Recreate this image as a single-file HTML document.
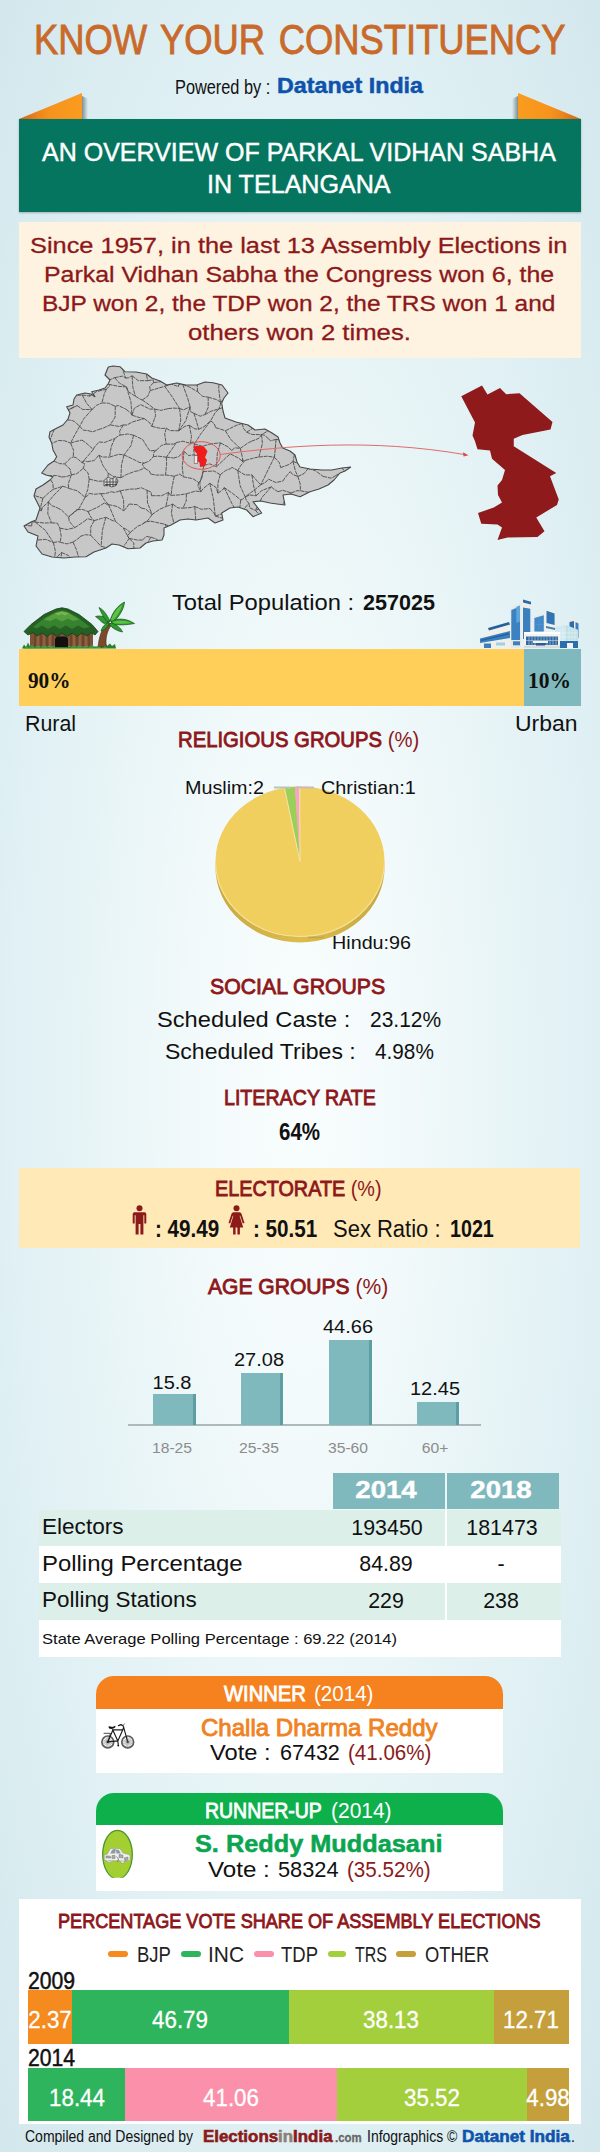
<!DOCTYPE html>
<html><head><meta charset="utf-8"><title>Know Your Constituency - Parkal</title>
<style>
html,body{margin:0;padding:0}
body{width:600px;height:2152px;overflow:hidden;font-family:"Liberation Sans",sans-serif;background:#e6f3f6}
#pg{position:relative;width:600px;height:2152px;overflow:hidden;background:radial-gradient(ellipse 430px 1520px at 50% 50%,#f9fdfd 0%,#f3fafb 22%,#e9f5f7 45%,#deeff3 72%,#d2e7ec 100%)}
.r{position:absolute}
.t{position:absolute;white-space:nowrap;line-height:1;transform-origin:0 50%;display:block}
svg{position:absolute;overflow:visible}
b{font-weight:700}
.m{-webkit-text-stroke:.9px currentColor}

</style></head><body>
<div id="pg">
<svg style="left:0;top:85px" width="600" height="40" viewBox="0 85 600 40">
<defs>
<linearGradient id="gL" x1="0" x2="1" y1="0" y2="0"><stop offset="0" stop-color="#d4621a"/><stop offset="0.3" stop-color="#ee851c"/><stop offset="0.5" stop-color="#f7931d"/><stop offset="1" stop-color="#f99c1e"/></linearGradient>
<linearGradient id="gR" x1="1" x2="0" y1="0" y2="0"><stop offset="0" stop-color="#d4621a"/><stop offset="0.3" stop-color="#ee851c"/><stop offset="0.5" stop-color="#f7931d"/><stop offset="1" stop-color="#f99c1e"/></linearGradient>
<linearGradient id="sL" x1="0" x2="1" y1="0" y2="0"><stop offset="0" stop-color="#56656a" stop-opacity=".7"/><stop offset="1" stop-color="#5d6b6e" stop-opacity="0"/></linearGradient>
<linearGradient id="sR" x1="1" x2="0" y1="0" y2="0"><stop offset="0" stop-color="#56656a" stop-opacity=".7"/><stop offset="1" stop-color="#5d6b6e" stop-opacity="0"/></linearGradient>
</defs>
<polygon points="82,96 88,99 88,119 82,119" fill="url(#sL)"/>
<polygon points="518,96 512,99 512,119 518,119" fill="url(#sR)"/>
<polygon points="19,119 82,93 82,119" fill="url(#gL)"/>
<polygon points="581,119 518,93 518,119" fill="url(#gR)"/>
</svg>
<div class="r" style="left:19px;top:119px;width:562px;height:93px;background:#05755f;box-shadow:0 1px 2px rgba(0,0,0,.25)"></div>
<div class="r" style="left:19px;top:222px;width:562px;height:135.5px;background:#fdf3e0;"></div>
<svg style="left:0;top:355px" width="600" height="215" viewBox="0 355 600 215">
<defs><clipPath id="mapc"><polygon points="108.3,367 113,366 120,366.7 125,371.7 136,372 146.7,374 151.7,378 160,381 166.7,385 176.7,383 186,385 196.7,385 205,382 213,382.7 222,385 228,393 224,398 221.7,403 223,411 225,418 236,422 248,425 255,430 265,429 272,433 278,437 280,443 282.7,448 290,451 295,455 297,462 300,467 310,469 322,470 331.7,470 342,468 350.7,467 345,471 340,473 334,480 328,485 319,489 310,491.7 300,496.7 291,494 283,495 285,505 277,504 270,503 261,501 253,501.7 258,508 261.7,513 253,516.7 246.7,510 238,507 230,508 221.7,513 223,520 215,523 208,518 196,520 188,519 180,520 171,525 164,528 164,535 162,540 153,541 146,543 140,548 128,548.8 119,545 112,544 106,548 94,552 86,556.8 75,557 64,558 52,557 42,554 36,546 38,536 28,532 24,526 31,522 36,520 38,514 40,508 34,496 36,489 43,485 50,480 53,476.7 46,475 41.7,473 48,465 54,461 56.7,456.7 53,450 51.7,443 49,437 50,431.7 57,428 63,425 68,419 70,413 66.7,406.7 73,405 74,399 76.7,395 85,393 91,394 95,396.7 91.7,391.7 99,390 105,388 108,384 110,380 105,375"/></clipPath></defs>
<polygon points="108.3,367 113,366 120,366.7 125,371.7 136,372 146.7,374 151.7,378 160,381 166.7,385 176.7,383 186,385 196.7,385 205,382 213,382.7 222,385 228,393 224,398 221.7,403 223,411 225,418 236,422 248,425 255,430 265,429 272,433 278,437 280,443 282.7,448 290,451 295,455 297,462 300,467 310,469 322,470 331.7,470 342,468 350.7,467 345,471 340,473 334,480 328,485 319,489 310,491.7 300,496.7 291,494 283,495 285,505 277,504 270,503 261,501 253,501.7 258,508 261.7,513 253,516.7 246.7,510 238,507 230,508 221.7,513 223,520 215,523 208,518 196,520 188,519 180,520 171,525 164,528 164,535 162,540 153,541 146,543 140,548 128,548.8 119,545 112,544 106,548 94,552 86,556.8 75,557 64,558 52,557 42,554 36,546 38,536 28,532 24,526 31,522 36,520 38,514 40,508 34,496 36,489 43,485 50,480 53,476.7 46,475 41.7,473 48,465 54,461 56.7,456.7 53,450 51.7,443 49,437 50,431.7 57,428 63,425 68,419 70,413 66.7,406.7 73,405 74,399 76.7,395 85,393 91,394 95,396.7 91.7,391.7 99,390 105,388 108,384 110,380 105,375" fill="#c7c7c7"/>
<g fill="none" stroke="#4c4c4c" stroke-width="0.9" stroke-dasharray="4 0.8" stroke-linejoin="round" clip-path="url(#mapc)"><path d="M7.1 342.4L16.5 341.8L21.9 339.6M7.1 342.4L6.3 348.7L4.1 359.0M21.9 339.6L27.6 340.5L28.6 342.0M28.6 342.0L32.5 340.8L36.1 344.0M28.6 342.0L27.4 350.6L25.9 360.0M36.1 344.0L43.7 345.4L50.7 350.0M50.7 350.0L52.0 345.7L56.3 344.5M50.7 350.0L47.7 359.9L47.7 366.1M56.3 344.5L63.8 344.2L66.7 348.4M66.7 348.4L76.0 341.7L82.8 336.1M66.7 348.4L69.9 353.7L77.3 363.2M82.8 336.1L90.7 342.8L95.9 345.6M95.9 345.6L99.6 341.8L103.4 342.4M95.9 345.6L87.8 354.5L77.3 363.2M103.4 342.4L106.8 341.6L109.3 338.1M109.3 338.1L116.0 340.4L123.3 341.2M109.3 338.1L111.4 349.6L110.6 358.3M123.3 341.2L125.7 342.4L130.6 343.7M130.6 343.7L135.5 343.9L139.7 344.2M139.7 344.2L147.3 346.0L154.0 345.7M154.0 345.7L161.4 342.2L165.2 341.7M154.0 345.7L156.9 352.9L158.7 357.1M165.2 341.7L170.4 343.4L175.5 343.0M175.5 343.0L178.3 340.3L185.6 341.3M175.5 343.0L171.0 354.8L165.7 364.5M185.6 341.3L193.9 344.7L201.1 352.5M201.1 352.5L206.5 352.4L210.1 349.3M201.1 352.5L198.9 355.1L194.2 357.7M210.1 349.3L213.7 345.3L215.8 341.3M215.8 341.3L219.7 338.8L226.1 336.4M215.8 341.3L213.9 350.4L209.2 363.6M226.1 336.4L233.1 337.0L240.9 338.8M240.9 338.8L248.8 337.1L252.2 339.8M240.9 338.8L238.6 347.0L231.5 358.6M252.2 339.8L257.7 345.1L263.7 348.2M252.2 339.8L248.0 354.2L244.8 368.4M263.7 348.2L262.6 345.9L265.4 343.1M263.7 348.2L262.7 357.9L257.1 365.8M265.4 343.1L275.9 347.0L284.3 346.4M284.3 346.4L288.9 343.0L295.4 343.3M284.3 346.4L286.0 354.9L288.0 359.2M295.4 343.3L295.8 342.4L297.6 343.1M297.6 343.1L306.6 337.9L314.6 337.2M297.6 343.1L298.7 348.9L297.5 354.2M314.6 337.2L318.6 340.0L318.7 339.1M318.7 339.1L326.4 344.9L337.3 347.2M318.7 339.1L320.6 351.0L323.6 360.2M337.3 347.2L337.3 344.6L340.0 343.5M340.0 343.5L345.4 340.9L350.3 341.4M340.0 343.5L340.0 352.3L339.1 358.5M350.3 341.4L358.6 341.0L367.2 340.6M367.2 340.6L369.9 340.6L375.5 340.8M367.2 340.6L369.4 347.7L375.7 353.0M375.5 340.8L378.4 340.7L382.7 342.8M375.5 340.8L376.8 347.0L375.7 353.0M382.7 342.8L384.2 352.5L384.2 365.0M4.1 359.0L7.4 356.9L14.5 359.0M14.5 359.0L21.5 357.8L25.9 360.0M14.5 359.0L14.8 369.2L19.8 381.0M25.9 360.0L34.0 361.5L43.3 367.0M43.3 367.0L44.7 367.9L47.7 366.1M43.3 367.0L38.0 374.1L34.6 380.2M47.7 366.1L52.5 360.1L57.3 357.2M57.3 357.2L63.8 356.3L73.8 358.3M57.3 357.2L64.0 366.3L70.3 379.0M73.8 358.3L76.5 359.6L77.3 363.2M77.3 363.2L83.9 358.5L88.9 357.2M77.3 363.2L78.5 373.9L79.3 385.0M88.9 357.2L94.9 359.0L104.5 360.7M104.5 360.7L105.7 358.9L110.6 358.3M104.5 360.7L102.1 369.6L104.2 383.1M110.6 358.3L115.6 360.7L119.2 362.4M119.2 362.4L127.5 360.1L131.1 359.6M119.2 362.4L122.7 369.6L125.7 378.1M131.1 359.6L135.2 359.1L142.8 356.0M142.8 356.0L152.1 355.4L158.7 357.1M142.8 356.0L144.7 366.3L147.7 380.7M158.7 357.1L161.6 360.0L165.7 364.5M165.7 364.5L168.1 360.0L172.6 358.7M165.7 364.5L172.5 369.9L176.6 376.8M172.6 358.7L182.2 363.0L189.8 367.2M189.8 367.2L193.9 363.9L194.2 357.7M189.8 367.2L189.2 372.1L186.8 376.5M194.2 357.7L202.7 358.4L209.2 363.6M209.2 363.6L211.3 360.7L214.7 362.0M209.2 363.6L209.8 372.6L211.5 378.2M214.7 362.0L222.2 361.3L231.5 358.6M231.5 358.6L232.6 354.8L237.8 355.4M231.5 358.6L231.2 368.2L230.2 380.1M237.8 355.4L242.1 360.4L244.8 368.4M244.8 368.4L251.5 369.3L257.1 365.8M244.8 368.4L242.3 374.8L238.0 384.0M257.1 365.8L260.4 363.3L267.8 365.2M267.8 365.2L275.1 358.4L281.4 355.8M281.4 355.8L284.5 357.3L288.0 359.2M288.0 359.2L292.2 358.1L297.5 354.2M288.0 359.2L289.1 369.6L292.1 381.4M297.5 354.2L307.3 357.6L312.5 364.5M312.5 364.5L316.7 363.2L323.6 360.2M312.5 364.5L313.4 375.6L310.2 382.1M323.6 360.2L327.8 360.2L336.8 359.8M336.8 359.8L339.2 357.1L339.1 358.5M336.8 359.8L335.7 366.5L336.7 377.0M339.1 358.5L344.0 357.2L353.5 353.0M353.5 353.0L357.0 352.3L361.5 355.0M353.5 353.0L351.3 364.9L352.4 375.7M361.5 355.0L368.5 354.3L375.7 353.0M375.7 353.0L378.9 360.2L384.2 365.0M375.7 353.0L377.4 367.9L377.8 384.2M11.9 380.9L17.8 382.1L19.8 381.0M11.9 380.9L12.4 388.4L8.3 392.9M19.8 381.0L24.3 375.9L25.2 372.7M25.2 372.7L29.9 377.3L34.6 380.2M34.6 380.2L43.5 379.0L51.3 378.7M51.3 378.7L52.7 376.5L55.6 375.2M51.3 378.7L54.3 386.3L59.5 392.6M55.6 375.2L62.3 378.0L70.3 379.0M70.3 379.0L76.5 380.6L79.3 385.0M70.3 379.0L69.4 386.8L67.9 395.5M79.3 385.0L84.5 383.4L87.6 380.5M87.6 380.5L97.3 380.0L104.2 383.1M87.6 380.5L87.4 386.8L89.8 396.1M104.2 383.1L107.1 380.8L114.7 377.7M114.7 377.7L122.4 376.1L125.7 378.1M114.7 377.7L119.4 383.1L126.4 386.9M125.7 378.1L128.4 377.8L132.1 375.8M132.1 375.8L138.3 380.7L147.7 380.7M132.1 375.8L132.8 387.1L135.4 396.2M147.7 380.7L153.1 379.8L153.7 382.6M153.7 382.6L158.8 381.9L168.3 380.8M153.7 382.6L149.8 386.3L150.1 390.6M168.3 380.8L174.3 379.5L176.6 376.8M176.6 376.8L182.8 376.2L186.8 376.5M176.6 376.8L170.1 382.5L164.6 386.3M186.8 376.5L189.9 377.1L192.6 374.8M192.6 374.8L200.5 374.6L211.5 378.2M192.6 374.8L197.0 383.0L197.7 391.8M211.5 378.2L213.9 378.4L219.6 375.0M219.6 375.0L225.2 376.5L230.2 380.1M219.6 375.0L218.7 388.4L220.3 402.0M230.2 380.1L233.4 380.9L238.0 384.0M230.2 380.1L227.6 387.0L229.7 391.3M238.0 384.0L242.4 380.2L245.2 381.2M238.0 384.0L240.5 384.6L238.3 388.1M245.2 381.2L251.9 378.7L255.2 376.3M255.2 376.3L264.0 372.6L269.8 369.9M269.8 369.9L276.3 372.5L282.3 373.7M282.3 373.7L286.1 379.6L292.1 381.4M282.3 373.7L287.5 388.7L292.1 399.6M292.1 381.4L293.5 379.1L299.3 373.3M299.3 373.3L304.9 378.5L310.2 382.1M299.3 373.3L301.1 384.9L300.5 398.4M310.2 382.1L315.0 375.8L319.8 374.1M319.8 374.1L330.5 373.2L336.7 377.0M319.8 374.1L324.5 384.4L326.5 392.4M336.7 377.0L339.4 378.8L343.0 377.8M343.0 377.8L349.0 379.1L352.4 375.7M352.4 375.7L359.2 375.2L361.7 375.6M361.7 375.6L368.6 381.9L377.8 384.2M377.8 384.2L383.8 380.0L389.0 378.5M389.0 378.5L388.7 384.9L386.9 388.3M8.3 392.9L10.8 393.1L14.7 392.1M14.7 392.1L22.1 395.0L31.6 394.0M14.7 392.1L15.8 399.1L19.3 408.9M31.6 394.0L34.7 392.5L40.9 395.3M40.9 395.3L43.3 390.4L47.4 388.4M40.9 395.3L40.5 405.6L43.4 417.3M47.4 388.4L53.2 388.1L59.5 392.6M59.5 392.6L63.2 393.2L67.9 395.5M59.5 392.6L56.6 403.1L58.3 416.7M67.9 395.5L72.9 395.6L82.2 395.0M82.2 395.0L85.1 395.4L89.8 396.1M82.2 395.0L86.6 403.2L92.0 409.5M89.8 396.1L96.6 391.6L106.4 389.2M106.4 389.2L109.7 385.9L108.6 384.3M106.4 389.2L104.3 393.7L101.9 402.9M108.6 384.3L118.6 386.4L126.4 386.9M126.4 386.9L128.8 392.1L135.4 396.2M126.4 386.9L130.9 401.7L132.0 415.2M135.4 396.2L138.9 398.4L142.2 400.0M142.2 400.0L147.8 396.2L150.1 390.6M142.2 400.0L148.1 404.0L154.7 409.1M150.1 390.6L156.0 388.9L164.6 386.3M164.6 386.3L171.6 384.2L178.5 386.6M164.6 386.3L171.1 395.2L179.6 408.5M178.5 386.6L178.5 384.7L182.7 384.5M182.7 384.5L189.4 387.0L197.7 391.8M182.7 384.5L187.6 397.9L190.1 406.7M197.7 391.8L202.5 396.3L208.2 397.2M208.2 397.2L216.6 399.6L220.3 402.0M208.2 397.2L208.2 407.3L205.1 414.5M220.3 402.0L225.1 399.0L229.7 391.3M220.3 402.0L220.6 404.3L218.8 409.0M229.7 391.3L235.5 389.5L238.3 388.1M229.7 391.3L231.8 397.1L236.8 404.9M238.3 388.1L242.1 386.7L244.5 389.4M244.5 389.4L254.4 387.7L261.5 386.1M244.5 389.4L252.4 403.9L256.8 415.9M261.5 386.1L264.9 390.4L267.9 390.7M267.9 390.7L273.4 392.5L282.3 395.7M282.3 395.7L285.0 396.9L292.1 399.6M292.1 399.6L297.9 397.1L300.5 398.4M292.1 399.6L295.0 401.0L302.5 400.7M300.5 398.4L308.0 392.6L315.7 386.9M300.5 398.4L301.6 398.7L302.5 400.7M315.7 386.9L323.3 391.9L326.5 392.4M315.7 386.9L318.1 401.2L321.6 412.4M326.5 392.4L329.0 392.6L329.6 389.5M329.6 389.5L337.9 392.1L344.7 397.5M329.6 389.5L330.0 400.9L333.6 411.6M344.7 397.5L346.6 395.8L352.9 396.3M352.9 396.3L359.7 398.8L368.0 400.0M352.9 396.3L356.0 404.4L354.4 410.6M368.0 400.0L374.7 396.6L379.1 394.4M379.1 394.4L382.5 389.7L386.9 388.3M379.1 394.4L380.0 400.5L382.1 405.6M9.5 410.3L12.7 407.8L19.3 408.9M19.3 408.9L22.6 410.7L25.9 413.3M25.9 413.3L32.8 413.5L43.4 417.3M25.9 413.3L26.6 421.9L25.7 430.9M43.4 417.3L48.7 416.3L49.8 416.5M49.8 416.5L54.6 416.4L58.3 416.7M58.3 416.7L65.7 410.9L73.8 407.1M73.8 407.1L77.6 405.4L77.2 405.7M73.8 407.1L64.3 413.0L57.2 419.8M77.2 405.7L82.8 409.5L92.0 409.5M92.0 409.5L96.5 405.4L101.9 402.9M92.0 409.5L83.9 418.6L79.7 426.2M101.9 402.9L108.4 403.2L115.3 406.3M115.3 406.3L118.2 405.5L125.8 409.1M115.3 406.3L115.1 417.1L110.2 424.9M125.8 409.1L130.7 413.0L132.0 415.2M132.0 415.2L134.3 408.3L140.7 404.6M132.0 415.2L138.9 417.4L144.3 418.6M140.7 404.6L149.9 409.1L154.7 409.1M154.7 409.1L160.9 410.4L168.1 408.6M154.7 409.1L155.6 415.6L151.8 426.4M168.1 408.6L173.7 408.1L179.6 408.5M179.6 408.5L183.5 409.9L190.1 406.7M179.6 408.5L180.8 419.8L178.7 430.8M190.1 406.7L190.1 411.4L193.9 413.3M190.1 406.7L185.8 420.7L178.7 430.8M193.9 413.3L200.3 416.2L205.1 414.5M193.9 413.3L196.0 419.7L198.7 429.3M205.1 414.5L211.3 411.1L218.8 409.0M218.8 409.0L226.8 406.2L231.2 407.1M218.8 409.0L214.9 413.1L210.7 420.8M231.2 407.1L235.4 405.0L236.8 404.9M236.8 404.9L242.7 409.5L252.2 413.5M236.8 404.9L239.5 413.3L242.1 423.5M252.2 413.5L253.8 413.5L256.8 415.9M256.8 415.9L265.4 416.9L274.3 413.3M256.8 415.9L257.3 419.5L257.3 423.6M274.3 413.3L279.4 408.8L281.2 408.1M281.2 408.1L284.6 410.7L291.3 408.8M281.2 408.1L286.2 418.7L290.1 424.9M291.3 408.8L297.9 402.9L302.5 400.7M302.5 400.7L308.1 405.0L316.3 406.5M316.3 406.5L320.1 408.9L321.6 412.4M321.6 412.4L328.2 411.5L333.6 411.6M321.6 412.4L318.3 424.3L313.7 432.9M333.6 411.6L337.2 409.3L345.3 407.8M333.6 411.6L333.5 422.3L333.1 431.5M345.3 407.8L349.4 411.1L354.4 410.6M345.3 407.8L341.3 420.0L333.1 431.5M354.4 410.6L361.5 414.1L368.7 413.7M368.7 413.7L369.8 411.0L372.9 406.0M368.7 413.7L362.8 416.9L360.9 417.2M372.9 406.0L376.9 406.5L382.1 405.6M10.4 429.5L13.2 427.7L17.8 425.5M17.8 425.5L21.2 427.4L25.7 430.9M17.8 425.5L20.5 436.1L21.1 451.2M25.7 430.9L33.6 429.7L42.9 424.1M42.9 424.1L47.6 423.2L52.1 420.0M42.9 424.1L39.9 428.6L32.4 437.7M52.1 420.0L55.1 422.1L57.2 419.8M57.2 419.8L65.2 419.5L72.2 420.5M57.2 419.8L54.4 428.9L49.2 442.2M72.2 420.5L74.4 421.5L79.7 426.2M79.7 426.2L83.0 430.1L87.9 430.6M79.7 426.2L74.1 436.1L70.6 443.1M87.9 430.6L92.8 431.8L98.5 429.6M98.5 429.6L103.3 428.1L110.2 424.9M110.2 424.9L119.1 426.5L123.3 424.9M123.3 424.9L126.9 425.0L132.4 422.0M123.3 424.9L119.6 431.3L120.2 435.1M132.4 422.0L136.1 420.9L144.3 418.6M144.3 418.6L150.1 423.2L151.8 426.4M151.8 426.4L161.1 428.5L166.3 428.2M166.3 428.2L170.1 430.6L178.7 430.8M166.3 428.2L164.7 434.1L166.2 444.1M178.7 430.8L184.9 426.3L189.3 425.3M189.3 425.3L194.8 428.8L198.7 429.3M189.3 425.3L191.5 436.5L190.4 443.4M198.7 429.3L204.0 426.7L210.7 420.8M210.7 420.8L214.2 423.8L215.8 427.8M210.7 420.8L200.6 434.2L194.3 444.0M215.8 427.8L218.7 428.5L225.4 430.8M225.4 430.8L235.9 425.5L242.1 423.5M225.4 430.8L230.6 439.3L240.3 448.4M242.1 423.5L243.7 428.7L246.6 432.2M246.6 432.2L251.9 428.8L257.3 423.6M246.6 432.2L252.2 434.5L261.5 434.6M257.3 423.6L263.6 424.5L273.1 424.6M273.1 424.6L277.4 420.0L283.2 418.5M273.1 424.6L268.8 430.5L261.5 434.6M283.2 418.5L286.4 422.2L290.1 424.9M290.1 424.9L294.9 421.4L297.1 421.3M290.1 424.9L293.7 439.1L299.0 451.3M297.1 421.3L304.1 425.9L313.7 432.9M313.7 432.9L320.6 427.7L326.8 424.9M326.8 424.9L331.5 427.6L333.1 431.5M333.1 431.5L338.0 430.2L343.5 427.7M333.1 431.5L342.5 436.0L348.1 440.8M343.5 427.7L347.3 421.5L351.1 417.8M351.1 417.8L354.1 416.6L360.9 417.2M351.1 417.8L355.9 430.3L355.9 444.3M360.9 417.2L366.5 421.1L375.5 425.1M375.5 425.1L380.5 426.7L386.1 423.7M375.5 425.1L373.8 438.3L376.1 448.8M4.6 442.3L11.4 446.9L21.1 451.2M4.6 442.3L2.2 450.3L3.4 455.8M21.1 451.2L27.2 446.4L32.4 437.7M32.4 437.7L34.6 440.8L35.0 445.2M32.4 437.7L29.8 450.6L26.2 460.4M35.0 445.2L44.4 441.9L49.2 442.2M49.2 442.2L52.2 443.3L58.4 440.5M49.2 442.2L50.3 449.8L53.8 461.0M58.4 440.5L64.5 440.7L70.6 443.1M70.6 443.1L75.2 441.6L81.9 440.1M70.6 443.1L73.5 450.2L73.3 456.9M81.9 440.1L85.9 442.8L93.3 449.4M93.3 449.4L94.6 446.9L99.1 442.0M93.3 449.4L88.9 454.8L81.9 462.5M99.1 442.0L104.7 442.4L114.7 438.6M114.7 438.6L118.8 435.6L120.2 435.1M114.7 438.6L111.3 446.5L109.5 457.1M120.2 435.1L127.6 434.0L133.6 435.2M133.6 435.2L142.5 439.4L147.6 447.6M133.6 435.2L130.9 445.8L124.0 454.9M147.6 447.6L149.9 450.9L156.4 450.2M156.4 450.2L161.6 445.3L166.2 444.1M156.4 450.2L154.1 451.8L153.3 456.7M166.2 444.1L173.5 444.1L176.4 442.5M176.4 442.5L183.0 441.2L190.4 443.4M176.4 442.5L171.6 449.6L166.4 457.2M190.4 443.4L193.2 441.7L194.3 444.0M194.3 444.0L202.3 446.2L209.2 444.4M194.3 444.0L193.8 449.3L194.2 454.8M209.2 444.4L212.8 443.6L220.4 442.9M220.4 442.9L228.3 447.0L231.6 450.5M220.4 442.9L217.3 453.5L216.5 466.7M231.6 450.5L234.9 447.8L240.3 448.4M240.3 448.4L247.7 443.2L251.4 441.3M240.3 448.4L242.2 456.5L243.0 461.8M251.4 441.3L258.9 438.3L261.5 434.6M261.5 434.6L264.2 435.1L268.5 438.7M261.5 434.6L262.4 443.5L258.9 457.0M268.5 438.7L270.4 440.8L276.0 439.4M276.0 439.4L281.9 440.2L292.3 445.6M276.0 439.4L275.3 448.7L274.4 457.2M292.3 445.6L296.9 449.9L299.0 451.3M292.3 445.6L294.9 452.2L293.0 461.5M299.0 451.3L305.8 446.0L313.5 443.2M299.0 451.3L301.7 454.8L305.9 463.0M313.5 443.2L320.0 442.1L324.0 443.2M324.0 443.2L328.8 440.0L333.3 438.3M324.0 443.2L327.8 449.6L330.3 451.9M333.3 438.3L340.3 438.2L348.1 440.8M348.1 440.8L351.7 441.2L355.9 444.3M348.1 440.8L344.7 449.1L343.8 455.9M355.9 444.3L361.2 441.5L368.9 438.5M368.9 438.5L374.3 442.1L376.1 448.8M368.9 438.5L366.6 449.9L364.1 459.0M376.1 448.8L378.2 444.1L383.3 443.9M3.4 455.8L11.0 453.8L16.9 451.7M16.9 451.7L19.3 456.3L26.2 460.4M16.9 451.7L16.4 458.9L20.2 470.2M26.2 460.4L34.4 461.2L39.5 457.2M39.5 457.2L47.4 457.8L53.8 461.0M39.5 457.2L40.0 467.7L41.6 480.2M53.8 461.0L59.6 463.6L64.6 464.0M64.6 464.0L70.5 458.1L73.3 456.9M64.6 464.0L70.1 469.1L71.3 474.9M73.3 456.9L76.0 457.6L81.9 462.5M81.9 462.5L84.6 460.8L87.3 461.7M81.9 462.5L84.7 463.7L83.3 468.3M87.3 461.7L94.1 460.6L98.9 455.2M98.9 455.2L102.4 457.0L109.5 457.1M98.9 455.2L102.9 465.4L108.3 473.4M109.5 457.1L118.8 454.3L124.0 454.9M124.0 454.9L133.1 459.2L137.6 461.4M124.0 454.9L121.5 464.8L120.9 477.7M137.6 461.4L139.1 462.4L144.2 463.1M144.2 463.1L149.1 461.2L153.3 456.7M144.2 463.1L142.3 464.3L144.4 468.1M153.3 456.7L157.8 456.1L166.4 457.2M166.4 457.2L172.0 457.7L173.5 458.1M166.4 457.2L166.6 464.2L165.5 475.0M173.5 458.1L178.7 456.6L184.1 451.4M184.1 451.4L188.4 455.5L194.2 454.8M184.1 451.4L182.2 466.2L183.3 476.8M194.2 454.8L201.3 457.8L203.8 465.4M203.8 465.4L209.7 463.9L216.5 466.7M203.8 465.4L203.0 470.0L203.1 471.5M216.5 466.7L225.6 458.0L230.3 453.9M230.3 453.9L238.9 458.3L243.0 461.8M243.0 461.8L241.8 460.3L245.1 460.4M245.1 460.4L254.2 457.9L258.9 457.0M245.1 460.4L240.8 465.4L237.8 470.6M258.9 457.0L267.2 456.2L274.4 457.2M274.4 457.2L279.4 462.8L280.7 467.6M274.4 457.2L268.1 469.8L260.9 484.6M280.7 467.6L289.0 464.5L293.0 461.5M293.0 461.5L300.1 464.1L305.9 463.0M293.0 461.5L295.5 471.3L297.8 476.5M305.9 463.0L308.4 455.8L313.0 451.8M313.0 451.8L317.0 453.8L323.6 455.0M313.0 451.8L309.5 458.2L308.1 468.5M323.6 455.0L327.9 452.8L330.3 451.9M330.3 451.9L337.0 455.9L343.8 455.9M330.3 451.9L339.0 463.5L346.0 473.4M343.8 455.9L348.1 460.1L353.5 464.4M353.5 464.4L359.1 459.6L364.1 459.0M353.5 464.4L355.0 465.8L360.7 470.7M364.1 459.0L367.7 458.8L375.8 458.2M364.1 459.0L363.8 463.6L360.7 470.7M375.8 458.2L383.5 458.9L388.1 456.7M375.8 458.2L366.3 463.8L360.7 470.7M388.1 456.7L383.7 464.7L383.5 469.3M12.1 477.4L14.4 472.9L20.2 470.2M12.1 477.4L9.1 488.4L6.2 495.2M20.2 470.2L23.3 476.5L24.9 481.0M24.9 481.0L32.3 481.4L41.6 480.2M24.9 481.0L29.1 489.6L30.4 496.1M41.6 480.2L46.4 479.5L48.2 475.9M48.2 475.9L56.5 475.5L61.7 477.0M48.2 475.9L52.9 483.4L53.3 489.3M61.7 477.0L66.4 476.6L71.3 474.9M71.3 474.9L76.9 473.7L83.3 468.3M71.3 474.9L68.2 484.0L68.8 488.4M83.3 468.3L88.0 472.8L89.2 479.1M89.2 479.1L98.4 481.3L105.8 480.9M89.2 479.1L87.8 489.4L85.0 497.3M105.8 480.9L107.9 476.9L108.3 473.4M108.3 473.4L114.1 476.8L120.9 477.7M120.9 477.7L126.6 474.5L134.6 471.4M134.6 471.4L138.2 470.8L144.4 468.1M144.4 468.1L149.4 471.1L150.7 474.1M150.7 474.1L156.8 475.1L165.5 475.0M165.5 475.0L168.2 475.3L174.3 476.2M174.3 476.2L179.8 474.2L183.3 476.8M174.3 476.2L171.9 487.8L171.1 495.4M183.3 476.8L193.0 478.7L198.8 482.6M198.8 482.6L201.5 479.3L203.1 471.5M198.8 482.6L197.9 485.8L200.8 491.8M203.1 471.5L214.1 471.0L220.3 474.7M203.1 471.5L199.8 482.9L200.8 491.8M220.3 474.7L225.5 470.6L230.5 468.6M220.3 474.7L217.9 483.1L217.9 493.2M230.5 468.6L232.1 467.4L237.8 470.6M237.8 470.6L245.0 474.9L251.9 474.9M237.8 470.6L240.1 485.7L245.2 496.8M251.9 474.9L257.8 481.8L260.9 484.6M251.9 474.9L253.7 486.3L256.2 495.8M260.9 484.6L265.9 482.1L268.4 479.1M260.9 484.6L255.0 489.5L245.2 496.8M268.4 479.1L275.8 482.5L282.8 481.1M282.8 481.1L285.1 477.6L290.3 471.6M290.3 471.6L292.4 474.3L297.8 476.5M297.8 476.5L304.0 473.6L308.1 468.5M297.8 476.5L300.1 483.4L300.5 490.8M308.1 468.5L315.3 470.6L323.1 476.4M323.1 476.4L331.1 478.2L334.7 476.3M334.7 476.3L338.3 473.8L346.0 473.4M346.0 473.4L348.4 473.9L351.4 477.9M346.0 473.4L341.9 483.2L335.0 495.3M351.4 477.9L357.5 473.1L360.7 470.7M360.7 470.7L368.4 470.6L377.1 474.3M360.7 470.7L362.1 482.0L367.8 493.5M377.1 474.3L378.0 469.8L383.5 469.3M383.5 469.3L384.7 485.2L389.7 496.8M6.2 495.2L13.2 492.7L16.8 490.4M16.8 490.4L22.7 495.6L30.4 496.1M30.4 496.1L35.7 495.9L42.9 498.3M42.9 498.3L48.1 493.4L53.3 489.3M42.9 498.3L40.9 506.0L41.2 510.9M53.3 489.3L59.0 487.5L62.8 486.2M62.8 486.2L65.5 487.1L68.8 488.4M62.8 486.2L53.3 495.8L48.4 501.9M68.8 488.4L77.5 490.9L85.0 497.3M85.0 497.3L87.7 495.6L89.2 493.4M85.0 497.3L79.1 508.5L68.6 517.0M89.2 493.4L94.5 494.3L100.8 493.6M100.8 493.6L105.2 493.7L111.5 491.7M100.8 493.6L104.3 499.8L108.5 504.6M111.5 491.7L114.6 492.5L120.2 490.8M120.2 490.8L130.5 489.1L136.2 489.0M120.2 490.8L123.6 500.0L123.8 510.8M136.2 489.0L141.3 487.7L147.1 490.4M147.1 490.4L151.1 492.1L151.5 495.7M147.1 490.4L147.5 502.8L152.1 514.5M151.5 495.7L161.6 495.7L168.5 492.4M168.5 492.4L170.2 494.9L171.1 495.4M168.5 492.4L167.6 498.3L165.9 506.5M171.1 495.4L179.7 494.9L186.4 493.8M186.4 493.8L195.9 491.0L200.8 491.8M186.4 493.8L186.2 501.0L183.0 508.1M200.8 491.8L203.0 488.8L209.8 483.3M209.8 483.3L216.0 487.4L217.9 493.2M209.8 483.3L213.3 498.7L215.3 516.1M217.9 493.2L222.5 490.0L224.2 487.6M224.2 487.6L232.9 493.6L240.7 499.9M224.2 487.6L231.9 503.6L238.9 515.2M240.7 499.9L242.2 499.6L245.2 496.8M240.7 499.9L240.0 506.0L238.9 515.2M245.2 496.8L250.0 495.0L256.2 495.8M245.2 496.8L246.3 500.3L248.8 503.3M256.2 495.8L261.5 490.7L271.4 486.8M271.4 486.8L273.0 488.4L277.9 491.7M271.4 486.8L262.2 497.1L255.4 510.4M277.9 491.7L282.7 490.3L291.2 492.9M291.2 492.9L297.0 490.7L300.5 490.8M291.2 492.9L283.7 502.5L280.8 509.0M300.5 490.8L310.1 492.6L316.3 497.2M316.3 497.2L320.3 495.6L322.4 495.6M316.3 497.2L313.6 504.2L307.5 509.3M322.4 495.6L326.5 497.5L335.0 495.3M335.0 495.3L340.1 492.1L347.3 488.8M335.0 495.3L326.8 503.3L321.3 510.2M347.3 488.8L350.5 491.9L357.0 490.5M357.0 490.5L362.1 491.7L367.8 493.5M357.0 490.5L349.5 494.6L340.3 501.9M367.8 493.5L372.2 496.4L378.1 497.4M378.1 497.4L385.7 498.9L389.7 496.8M378.1 497.4L375.0 507.5L376.3 517.7M7.7 514.4L15.9 512.9L20.8 508.9M7.7 514.4L6.9 522.8L4.3 526.9M20.8 508.9L22.0 504.9L27.8 502.6M27.8 502.6L35.7 506.7L41.2 510.9M27.8 502.6L29.4 510.4L35.2 522.1M41.2 510.9L42.5 507.4L48.4 501.9M48.4 501.9L51.7 505.6L57.3 507.8M48.4 501.9L47.8 513.7L51.5 522.8M57.3 507.8L61.6 510.1L68.6 517.0M68.6 517.0L70.4 515.3L76.9 509.6M68.6 517.0L69.3 521.4L74.7 527.7M76.9 509.6L82.9 509.5L88.0 511.6M88.0 511.6L97.9 507.1L104.5 502.9M88.0 511.6L91.3 517.9L94.2 520.6M104.5 502.9L108.3 505.2L108.5 504.6M108.5 504.6L117.2 506.5L123.8 510.8M108.5 504.6L112.0 512.8L115.5 521.4M123.8 510.8L126.6 507.6L129.2 504.0M129.2 504.0L137.1 504.7L141.1 508.0M141.1 508.0L145.6 509.0L152.1 514.5M152.1 514.5L159.5 509.4L165.9 506.5M152.1 514.5L148.0 520.3L142.3 524.3M165.9 506.5L170.4 505.1L172.6 504.1M172.6 504.1L178.0 507.9L183.0 508.1M172.6 504.1L171.4 513.1L174.2 524.5M183.0 508.1L191.1 507.5L194.8 506.5M194.8 506.5L201.4 509.3L209.9 508.5M194.8 506.5L195.6 518.1L196.1 533.3M209.9 508.5L214.4 513.7L215.3 516.1M215.3 516.1L224.8 512.7L231.8 509.9M215.3 516.1L223.1 518.4L229.9 520.4M231.8 509.9L233.2 513.6L238.9 515.2M231.8 509.9L231.7 513.8L229.9 520.4M238.9 515.2L243.6 509.5L248.8 503.3M238.9 515.2L236.5 518.3L229.9 520.4M248.8 503.3L249.8 507.9L255.4 510.4M255.4 510.4L264.6 506.3L272.8 504.6M255.4 510.4L261.0 516.2L262.3 521.5M272.8 504.6L274.8 507.5L280.8 509.0M280.8 509.0L286.3 514.3L288.9 517.3M280.8 509.0L279.3 520.0L279.4 528.9M288.9 517.3L297.0 514.4L302.9 508.7M302.9 508.7L306.4 510.9L307.5 509.3M302.9 508.7L303.2 519.0L300.5 525.4M307.5 509.3L315.6 508.9L321.3 510.2M321.3 510.2L325.8 509.1L335.0 506.3M321.3 510.2L322.4 516.8L324.6 520.3M335.0 506.3L336.5 505.1L340.3 501.9M340.3 501.9L346.3 506.2L352.4 506.0M340.3 501.9L341.9 512.4L345.6 525.8M352.4 506.0L358.1 507.7L367.9 511.7M367.9 511.7L371.5 516.8L376.3 517.7M367.9 511.7L366.8 517.4L361.2 521.6M376.3 517.7L380.4 513.3L383.4 510.0M383.4 510.0L380.8 515.2L382.6 520.4M4.3 526.9L8.3 526.3L13.4 525.5M4.3 526.9L5.2 535.6L10.6 539.6M13.4 525.5L21.9 524.9L31.7 526.0M13.4 525.5L12.7 533.1L10.6 539.6M31.7 526.0L32.0 521.7L35.2 522.1M35.2 522.1L44.0 523.0L51.5 522.8M35.2 522.1L45.3 530.3L53.4 542.6M51.5 522.8L57.4 523.2L59.8 528.1M59.8 528.1L67.1 529.5L74.7 527.7M59.8 528.1L61.2 536.2L60.1 542.2M74.7 527.7L77.3 526.0L84.3 521.3M84.3 521.3L87.6 518.7L94.2 520.6M94.2 520.6L101.8 518.4L105.8 517.3M94.2 520.6L90.7 527.2L90.7 535.2M105.8 517.3L113.0 520.8L115.5 521.4M105.8 517.3L102.4 530.3L101.1 546.3M115.5 521.4L117.6 523.2L123.4 528.0M123.4 528.0L125.3 528.6L130.3 532.4M123.4 528.0L125.8 532.6L129.1 538.4M130.3 532.4L137.5 526.4L142.3 524.3M130.3 532.4L127.5 535.9L129.1 538.4M142.3 524.3L145.0 522.0L150.6 521.2M150.6 521.2L159.5 523.1L164.7 524.2M164.7 524.2L169.7 526.4L174.2 524.5M164.7 524.2L173.0 536.6L178.5 545.3M174.2 524.5L180.3 522.2L182.4 523.7M182.4 523.7L188.1 527.5L196.1 533.3M182.4 523.7L183.6 538.0L182.9 548.2M196.1 533.3L201.6 531.3L210.0 530.3M210.0 530.3L212.8 525.8L213.0 525.1M210.0 530.3L213.9 534.8L214.2 540.7M213.0 525.1L222.0 524.9L229.9 520.4M229.9 520.4L234.9 522.6L239.1 521.1M229.9 520.4L236.0 535.0L240.5 545.2M239.1 521.1L240.1 524.2L244.5 528.2M244.5 528.2L251.6 526.2L262.3 521.5M262.3 521.5L267.3 522.3L271.1 525.2M271.1 525.2L275.7 525.6L279.4 528.9M271.1 525.2L267.5 532.1L266.2 540.2M279.4 528.9L285.2 525.2L289.1 524.5M289.1 524.5L293.4 525.3L300.5 525.4M289.1 524.5L287.4 534.8L289.4 543.3M300.5 525.4L305.7 522.4L309.8 518.0M309.8 518.0L317.2 516.8L324.6 520.3M309.8 518.0L310.6 530.9L308.5 546.9M324.6 520.3L330.7 522.9L337.1 525.8M337.1 525.8L340.2 526.1L345.6 525.8M337.1 525.8L340.8 533.7L344.1 540.4M345.6 525.8L353.3 525.4L357.0 523.5M357.0 523.5L357.3 523.0L361.2 521.6M357.0 523.5L361.8 529.9L367.4 539.4M361.2 521.6L370.0 524.1L376.6 525.9M376.6 525.9L381.8 521.0L382.6 520.4M382.6 520.4L382.9 534.8L383.6 546.0M10.6 539.6L13.3 538.9L14.2 537.7M10.6 539.6L7.2 548.4L5.1 561.0M14.2 537.7L20.5 536.3L25.3 539.4M25.3 539.4L29.5 538.0L38.1 539.9M38.1 539.9L45.9 539.4L53.4 542.6M53.4 542.6L58.3 541.6L60.1 542.2M53.4 542.6L55.5 551.6L54.0 560.1M60.1 542.2L66.9 543.9L73.0 542.1M73.0 542.1L78.7 538.3L80.0 536.5M73.0 542.1L76.3 549.3L79.9 561.3M80.0 536.5L85.2 534.7L90.7 535.2M90.7 535.2L95.9 540.8L101.1 546.3M101.1 546.3L107.2 547.9L116.9 548.5M116.9 548.5L123.1 548.0L124.5 544.7M116.9 548.5L120.8 549.3L123.6 550.9M124.5 544.7L125.7 543.7L129.1 538.4M129.1 538.4L137.9 540.1L142.5 540.0M129.1 538.4L133.8 543.0L133.7 552.0M142.5 540.0L146.2 536.5L150.9 537.1M150.9 537.1L156.3 539.1L165.1 544.6M150.9 537.1L146.5 544.5L144.6 555.2M165.1 544.6L172.5 544.0L178.5 545.3M178.5 545.3L182.7 547.8L182.9 548.2M182.9 548.2L189.9 544.3L200.2 543.9M200.2 543.9L201.1 543.9L205.6 540.3M200.2 543.9L193.8 548.6L185.7 556.1M205.6 540.3L209.7 541.0L214.2 540.7M205.6 540.3L206.7 547.4L209.4 557.9M214.2 540.7L224.7 537.9L232.5 538.7M232.5 538.7L237.2 541.8L240.5 545.2M240.5 545.2L244.7 545.9L246.2 549.4M246.2 549.4L253.9 545.2L260.7 541.3M260.7 541.3L265.4 539.4L266.2 540.2M260.7 541.3L259.8 547.7L259.7 557.4M266.2 540.2L273.5 539.9L281.2 542.6M266.2 540.2L274.4 546.3L278.9 549.6M281.2 542.6L283.1 543.0L289.4 543.3M281.2 542.6L275.4 551.4L269.4 559.6M289.4 543.3L293.8 539.2L300.2 538.1M300.2 538.1L306.2 543.0L308.5 546.9M300.2 538.1L301.1 549.4L303.6 561.5M308.5 546.9L314.8 549.0L319.1 548.9M319.1 548.9L324.4 545.4L333.4 545.7M319.1 548.9L324.3 553.3L329.5 556.4M333.4 545.7L338.1 542.4L344.1 540.4M344.1 540.4L353.2 543.8L357.8 546.1M344.1 540.4L337.3 549.0L329.5 556.4M357.8 546.1L363.9 543.3L367.4 539.4M367.4 539.4L371.7 540.5L371.5 542.5M367.4 539.4L368.1 548.2L364.7 554.3M371.5 542.5L375.7 543.1L383.6 546.0M383.6 546.0L382.2 552.1L383.1 556.3M5.1 561.0L11.4 558.3L21.0 557.7M21.0 557.7L22.8 555.9L28.9 555.1M21.0 557.7L22.3 567.2L19.5 578.5M28.9 555.1L31.2 552.5L34.7 553.4M34.7 553.4L45.0 558.7L54.0 560.1M54.0 560.1L56.5 557.6L61.5 552.5M61.5 552.5L68.6 555.6L72.1 560.0M61.5 552.5L60.3 568.3L56.3 579.9M72.1 560.0L77.5 559.7L79.9 561.3M79.9 561.3L85.7 558.8L94.3 555.7M79.9 561.3L83.0 564.6L89.1 571.7M94.3 555.7L94.7 559.2L99.2 559.8M99.2 559.8L101.9 557.6L109.2 555.9M99.2 559.8L98.9 563.1L100.4 566.3M109.2 555.9L116.1 552.2L123.6 550.9M123.6 550.9L129.2 552.7L133.7 552.0M123.6 550.9L121.1 562.8L122.1 571.7M133.7 552.0L137.2 553.9L144.6 555.2M133.7 552.0L132.4 562.1L134.3 571.0M144.6 555.2L149.3 554.1L155.8 554.7M144.6 555.2L144.3 570.2L139.7 582.8M155.8 554.7L161.9 555.8L166.6 557.2M166.6 557.2L174.0 557.6L179.7 561.3M166.6 557.2L172.4 563.8L175.2 568.0M179.7 561.3L184.6 559.2L185.7 556.1M185.7 556.1L193.0 556.3L197.6 557.1M185.7 556.1L186.7 568.4L184.1 576.3M197.6 557.1L204.8 555.6L209.4 557.9M209.4 557.9L211.8 560.9L217.4 563.2M209.4 557.9L204.0 565.5L200.2 569.8M217.4 563.2L225.7 561.5L231.1 564.5M231.1 564.5L232.4 564.5L237.7 560.7M237.7 560.7L242.5 564.1L249.6 565.0M249.6 565.0L255.5 560.8L259.7 557.4M249.6 565.0L247.5 568.3L246.2 576.0M259.7 557.4L262.4 558.4L269.4 559.6M269.4 559.6L274.6 554.9L278.9 549.6M269.4 559.6L274.4 572.6L284.2 581.0M278.9 549.6L287.6 555.3L293.1 562.2M293.1 562.2L299.9 564.1L303.6 561.5M293.1 562.2L300.3 570.7L303.3 582.1M303.6 561.5L307.2 558.7L314.3 559.2M314.3 559.2L320.8 559.0L323.4 554.9M314.3 559.2L314.9 562.0L311.5 568.8M323.4 554.9L325.4 557.3L329.5 556.4M329.5 556.4L335.8 557.2L343.5 553.5M343.5 553.5L348.0 556.8L349.9 557.3M349.9 557.3L359.5 557.6L364.7 554.3M349.9 557.3L351.0 568.8L355.5 580.1M364.7 554.3L369.3 558.7L373.2 559.1M373.2 559.1L380.0 558.5L383.1 556.3M373.2 559.1L373.6 567.6L378.5 577.9M11.3 582.6L14.5 578.8L19.5 578.5M19.5 578.5L25.3 576.3L27.8 575.2M27.8 575.2L30.2 572.4L36.4 574.2M36.4 574.2L42.0 577.3L50.1 578.2M50.1 578.2L51.2 577.6L56.3 579.9M56.3 579.9L63.0 580.3L67.0 578.4M67.0 578.4L75.9 574.0L85.1 571.0M85.1 571.0L88.6 570.2L89.1 571.7M89.1 571.7L96.8 569.4L100.4 566.3M100.4 566.3L110.4 569.1L116.1 575.0M116.1 575.0L117.7 574.8L122.1 571.7M122.1 571.7L127.2 571.1L134.3 571.0M134.3 571.0L137.9 575.5L139.7 582.8M139.7 582.8L148.0 579.9L152.7 576.9M152.7 576.9L159.8 577.3L169.0 579.7M169.0 579.7L174.2 574.3L175.2 568.0M175.2 568.0L177.6 570.9L184.1 576.3M184.1 576.3L191.4 571.8L200.2 569.8M200.2 569.8L203.0 571.9L210.1 574.7M210.1 574.7L213.2 574.7L217.2 574.1M217.2 574.1L222.1 579.3L231.5 582.8M231.5 582.8L233.6 578.6L235.8 575.5M235.8 575.5L238.8 574.8L246.2 576.0M246.2 576.0L248.9 569.0L255.4 566.5M255.4 566.5L261.4 570.7L272.1 571.3M272.1 571.3L277.9 576.2L284.2 581.0M284.2 581.0L286.7 578.7L293.0 573.6M293.0 573.6L298.1 577.1L303.3 582.1M303.3 582.1L307.4 576.9L311.5 568.8M311.5 568.8L317.6 570.1L320.0 569.1M320.0 569.1L327.3 568.5L334.9 567.6M334.9 567.6L337.9 570.6L340.6 570.4M340.6 570.4L345.9 576.4L355.5 580.1M355.5 580.1L359.9 582.0L363.3 579.9M363.3 579.9L370.8 578.3L378.5 577.9M378.5 577.9L379.2 574.9L383.0 571.4"/></g>
<polygon points="108.3,367 113,366 120,366.7 125,371.7 136,372 146.7,374 151.7,378 160,381 166.7,385 176.7,383 186,385 196.7,385 205,382 213,382.7 222,385 228,393 224,398 221.7,403 223,411 225,418 236,422 248,425 255,430 265,429 272,433 278,437 280,443 282.7,448 290,451 295,455 297,462 300,467 310,469 322,470 331.7,470 342,468 350.7,467 345,471 340,473 334,480 328,485 319,489 310,491.7 300,496.7 291,494 283,495 285,505 277,504 270,503 261,501 253,501.7 258,508 261.7,513 253,516.7 246.7,510 238,507 230,508 221.7,513 223,520 215,523 208,518 196,520 188,519 180,520 171,525 164,528 164,535 162,540 153,541 146,543 140,548 128,548.8 119,545 112,544 106,548 94,552 86,556.8 75,557 64,558 52,557 42,554 36,546 38,536 28,532 24,526 31,522 36,520 38,514 40,508 34,496 36,489 43,485 50,480 53,476.7 46,475 41.7,473 48,465 54,461 56.7,456.7 53,450 51.7,443 49,437 50,431.7 57,428 63,425 68,419 70,413 66.7,406.7 73,405 74,399 76.7,395 85,393 91,394 95,396.7 91.7,391.7 99,390 105,388 108,384 110,380 105,375" fill="none" stroke="#474747" stroke-width="1.1" stroke-linejoin="round"/>
<g fill="#d8d8d8" stroke="#2e2e2e" stroke-width="0.7" transform="translate(1,4.500)"><path d="M103 476l4-3.500 4 2 3.500-2.500 2.500 4.500-2 4.500-4.500 1.500-3-2-4.500 1z M106 474v8 M109 474.500v8 M112 473.500v9 M115 474v7 M103.500 477.500h13 M104 480h12"/></g>
<polygon points="194.200,445.700 203.700,446.200 207.500,451.200 205,457.500 207,460 205,466.200 200,467 199.500,462.500 195,460 197,453.700 193.700,450" fill="#ee1c1c"/>
<rect x="194.200" y="455.500" width="3.500" height="8" fill="#e9e9e9" stroke="#7a4a4a" stroke-width=".6"/>
<ellipse cx="201.200" cy="455.500" rx="19" ry="13.800" fill="none" stroke="#e05555" stroke-width="1"/>
<path d="M220 454.500 C 285 446, 370 438, 466 454.800" fill="none" stroke="#e26a6a" stroke-width="1"/>
<polygon points="468.5,455.2 463,452.3 463.6,456.6" fill="#d94a4a"/>
<polygon points="461.25,396.25 482,385.5 487.5,394.5 500,388 506.25,394.25 519.5,393.25 552.5,422 550.5,429.5 522.5,435 513.75,438.75 513.75,446.25 556.25,473 550,476.25 558.75,499.5 557,505 536.25,517.5 544.5,531.25 537.5,537 507.5,537.5 497.5,540 502,527.5 497.5,524.5 481.25,523.75 478,513 493.75,507.5 502,502.5 498,495 497.5,485.5 502,480 505,470 492,458.75 490,450.5 477.5,449.25 475,441.25 472.5,435.5 475,422.5" fill="#8f1a1c"/>
</svg>
<div class="r" style="left:19px;top:648.5px;width:561.5px;height:57.5px;background:#ffcf5a;"></div>
<div class="r" style="left:524px;top:648.5px;width:56.5px;height:57.5px;background:#80b9bd;"></div>
<svg style="left:15px;top:595px" width="130" height="56" viewBox="15 595 130 56">
<!-- grass back -->
<path d="M22 648.500 l2-4 2 2.500 2-4.500 2 4 3-3 2 3 H98 l2-3 2 2.500 3-4 2 4 3-2.500 2 2.500 3-2 1 4.500z" fill="#2a7f2a"/>
<!-- walls -->
<rect x="30" y="632" width="63" height="14.5" fill="#7d5236"/>
<g stroke="#5b3721" stroke-width="1"><path d="M35 632v15M41 632v15M47 632v15M53 632v15M71 632v15M77 632v15M83 632v15M89 632v15"/></g>
<g stroke="#976a47" stroke-width="1.4"><path d="M38 634v12M44 634v12M50 634v12M74 634v12M80 634v12M86 634v12"/></g>
<path d="M55 647v-7q0-3.5 3.5-3.5h6q3.500 0 3.500 3.500v7z" fill="#141010"/>
<!-- roof -->
<path d="M24 631.500 L31 624.500 L44 614.500 L56 609 L62 607.800 L68 609 L79 614.500 L92 624.500 L98 631.500 L95 635 L91 632.500 L87 636 L82 633 L77 636.500 L72 633 L67 636.500 L62 633 L57 636.500 L52 633 L47 636.500 L42 633 L37 636 L33 632.500 L28 635 Z" fill="#245f24" stroke="#123f14" stroke-width=".8" stroke-linejoin="round"/>
<path d="M33 627 L45 617.500 L57 611.500 L62 610.500 L67 611.500 L78 617.500 L90 627 L84 628.500 L78 625.500 L72 629 L66 625.500 L60 629 L54 625.500 L48 629 L42 625.500 L37 628.500Z" fill="#37822f"/>
<path d="M44 619.500 L56 612.500 L62 611.300 L68 612.500 L79 619.500 L73 621 L68 618.500 L62 621.500 L56 618.500 L50 621Z" fill="#559f3d"/>
<path d="M55 613.500 L62 611.500 L69 613.500 L65 615.500 L62 614 L58 615.500Z" fill="#78b552"/>
<!-- palm trunk -->
<path d="M98 647 C99 638 101 629 108 622 L112 624.500 C107 630 105 639 106.500 647Z" fill="#7b4a2b" stroke="#4e2d18" stroke-width=".6"/>
<!-- palm leaves -->
<g fill="#2f9a2f" stroke="#17581a" stroke-width=".7" stroke-linejoin="round">
<path d="M110 621 C106 617 101 615 95.500 616.500 C99 618.500 100 621.500 104 623.500 C106 623.500 108 622.500 110 621Z"/>
<path d="M110 621 C107 615 104 610 99 607.500 C101 612 103 617 107 621.500Z"/>
<path d="M110 621 C112 613 117 606 124.500 602 C124 609 119 617 113 622.500Z"/>
<path d="M111 621.500 C117 618 126 618 134.500 623.500 C127 625 119 625.500 112 624Z"/>
<path d="M111 623 C116 624 121 628 122.500 632 C117 631 112 628 109.500 624.500Z"/>
<path d="M109 623 C108 627 105 630 101 631 C102 627 105 624 108 622.500Z"/>
</g>
<g fill="#5fc245"><path d="M111 620 C113 614 117 608 122.500 604.500 C121 610 117 616 113 620.500Z"/><path d="M113 622 C119 620 126 620.500 131.500 623 C125 623.800 119 624 113.500 623.300Z"/></g>
<!-- grass front -->
<path d="M24 648.500 l3-2.500 2 2 3-3.500 3 3.500 3-2 3 2 4-3 3 3 4-2 3 2 H70 l3-2.500 3 2.500 3-3.500 3 3.500 3-2 3 2 4-3.500 3 3.500 3-2 4 2 3-2 3 2z" fill="#3d9a35"/>
</svg>
<svg style="left:470px;top:590px" width="120" height="60" viewBox="470 590 120 60">
<!-- tall tower -->
<polygon points="510.400,607.500 520.900,603.300 520.900,648 510.400,648" fill="#e7e8ea"/>
<polygon points="511.300,610 520,606.500 520,640 511.300,640" fill="#3b82c2"/>
<polygon points="516.300,606.800 520,605.400 520,621.500 516.300,623" fill="#5ea6da"/>
<polygon points="521.300,602.500 523,599.600 531,601.700 531,648 521.300,648" fill="#f0eee8"/>
<polygon points="523,599.600 531,601.700 531,604.400 523,602.600" fill="#2b6aa8"/>
<polygon points="523,607.500 530.300,608.800 530.300,639 523,639" fill="#3a7fbe"/>
<rect x="513" y="641.300" width="7" height="4" fill="#3c82c0"/>
<!-- middle bldg -->
<polygon points="533.400,616.200 544.800,613 544.800,632.300 533.400,632.300" fill="#e9eaec"/>
<polygon points="534.400,617.900 543.800,615.300 543.800,631.500 534.400,631.500" fill="#4189c8"/>
<path d="M539 616.600v15M534.400 624.500h9.400" stroke="#5d9bd0" stroke-width=".5"/>
<polygon points="545,611 547,609.300 555.300,612 555.300,632.300 545,632.300" fill="#f1efe9"/>
<polygon points="546.500,610.800 554.600,613.400 554.600,625 546.500,623" fill="#2f74b4"/>
<polygon points="546,626 555.300,628 555.300,630 546,628" fill="#3a7fbe"/>
<!-- right small tower -->
<polygon points="568,620 574,618.500 579,621 579,640 568,640" fill="#ecebe7"/>
<polygon points="569.500,622 574,621 574,630 569.500,630" fill="#2c6dab"/>
<polygon points="575.500,622 578.500,623.500 578.500,638 575.500,637" fill="#3a7fbe"/>
<!-- right glass block -->
<polygon points="555,627 566,625 578,630 578,648 555,648" fill="#cfe9ee"/>
<polygon points="566,625 578,630 578,648 566,648" fill="#bfe0e7"/>
<g stroke="#fff" stroke-width=".5" opacity=".8"><path d="M557 630v18M560 629v19M563 628v20M569 627v21M572 628v20M575 629v19M555 633h23M555 637h23M555 641h23"/></g>
<rect x="560" y="641" width="18" height="7" fill="#2c6dab"/>
<rect x="567" y="643" width="6" height="5" fill="#eef3f5"/>
<!-- left low building -->
<polygon points="488,629 509,622.500 511,623 511,648 480,648 480,638 484,636 484,632 488,631" fill="#f0efea"/>
<polygon points="488,628 509,622 510,624.500 489,630.500" fill="#23609c"/>
<polygon points="480,638.500 510,631 510,638 480,643" fill="#3a80c0"/>
<polygon points="481,639.800 509,633 509,634.500 481,641" fill="#23609c"/>
<rect x="484" y="643.500" width="7" height="4.500" fill="#3a80c0"/>
<rect x="496" y="642.500" width="9" height="3" fill="#9ed0e6"/>
<!-- front low building -->
<rect x="524" y="632" width="36" height="16" fill="#f4f3ef"/>
<rect x="524" y="632" width="36" height="2" fill="#fff"/>
<rect x="526" y="636.500" width="32" height="8.500" fill="#2f69a3"/>
<g stroke="#dfe9ef" stroke-width=".5"><path d="M529 636.500v8.500M532 636.500v8.500M535 636.500v8.500M538 636.500v8.500M541 636.500v8.500M544 636.500v8.500M547 636.500v8.500M550 636.500v8.500M553 636.500v8.500M556 636.500v8.500M526 640.500h32"/></g>
<rect x="533" y="641" width="15" height="2" fill="#f4f3ef"/>
<rect x="536" y="643" width="9" height="5" fill="#275c94"/>
<rect x="524" y="645.500" width="36" height="2.500" fill="#d8dcdc"/>
</svg>
<svg style="left:200px;top:775px" width="200" height="175" viewBox="200 775 200 175"><defs><linearGradient id="pg1" x1="0" x2="1"><stop offset="0" stop-color="#c9a93f"/><stop offset=".5" stop-color="#dcbc4c"/><stop offset="1" stop-color="#c9a93f"/></linearGradient></defs><path d="M215.5 861.5 A84.5 75 0 0 0 384.5 861.5 V867.5 A84.5 75 0 0 1 215.5 867.5Z" fill="url(#pg1)"/><ellipse cx="300" cy="861.5" rx="84.5" ry="75" fill="#f0cf5e"/><path d="M215.5 861.5 A84.5 75 0 0 0 384.5 861.5" fill="none" stroke="#f4e09a" stroke-width="1.2"/><path d="M300 861.5 L284.43 787.78 A84.5 75 0 0 1 294.96 786.63Z" fill="#9ccf5a"/><path d="M300 861.5 L294.96 786.63 A84.5 75 0 0 1 299.73 786.50Z" fill="#f5a3c7"/><path d="M300 861.5 L284.43 787.78 M300 861.5 L299.73 786.50" stroke="#f7e6a8" stroke-width="1" fill="none"/><path d="M274 787.500H289.500V789" fill="none" stroke="#b4c7b4" stroke-width="2"/><path d="M314 787.500H297V789" fill="none" stroke="#cdb9c2" stroke-width="2"/><path d="M308 937.500H324" fill="none" stroke="#c2a84a" stroke-width="1.6"/></svg>
<div class="r" style="left:19px;top:1167.5px;width:561px;height:80.5px;background:#ffe9b6;"></div>
<svg style="left:128px;top:1202.200px" width="125" height="36" viewBox="128 1203 125 36">
<g fill="#8b1a1a">
<circle cx="139.500" cy="1209.200" r="3"/>
<path d="M134.500 1213.200h10q1.800 0 1.800 1.800v9.500h-2v-8.300h-.9v19.300h-3v-10.500h-1.800v10.500h-3v-19.300h-.9v8.300h-2v-9.500q0-1.800 1.800-1.800z"/>
<circle cx="236.500" cy="1209.200" r="3"/>
<path d="M233.500 1213.200h6q1.500 0 2 1.600l3 9.200-1.700.6-2.600-7.800h-.6l3.600 11.700h-3.300v7h-2.500v-7h-1.800v7h-2.500v-7h-3.300l3.600-11.700h-.6l-2.600 7.800-1.700-.6 3-9.200q.5-1.600 2-1.600z"/>
</g></svg>
<div class="r" style="left:128px;top:1424.4px;width:353px;height:2.0px;background:#adbabc;"></div>
<div class="r" style="left:153.2px;top:1394.3px;width:42.80000000000001px;height:30.700000000000045px;background:#80b9bd;"></div>
<div class="r" style="left:192.7px;top:1394.3px;width:3.3000000000000114px;height:30.700000000000045px;background:#5e9ea3;"></div>
<div class="r" style="left:240.6px;top:1372.7px;width:42.79999999999998px;height:52.299999999999955px;background:#80b9bd;"></div>
<div class="r" style="left:280.09999999999997px;top:1372.7px;width:3.3000000000000114px;height:52.299999999999955px;background:#5e9ea3;"></div>
<div class="r" style="left:329.3px;top:1340px;width:43.099999999999966px;height:85px;background:#80b9bd;"></div>
<div class="r" style="left:369.09999999999997px;top:1340px;width:3.3000000000000114px;height:85px;background:#5e9ea3;"></div>
<div class="r" style="left:416.7px;top:1402px;width:42.80000000000001px;height:23px;background:#80b9bd;"></div>
<div class="r" style="left:456.2px;top:1402px;width:3.3000000000000114px;height:23px;background:#5e9ea3;"></div>
<div class="r" style="left:38.5px;top:1510px;width:522.5px;height:36px;background:#dcefe9;"></div>
<div class="r" style="left:38.5px;top:1546px;width:522.5px;height:37px;background:#fff;"></div>
<div class="r" style="left:38.5px;top:1583px;width:522.5px;height:37px;background:#dcefe9;"></div>
<div class="r" style="left:38.5px;top:1620px;width:522.5px;height:36.5px;background:#fff;"></div>
<div class="r" style="left:332.5px;top:1472.5px;width:112.5px;height:36.5px;background:#80b9bd;"></div>
<div class="r" style="left:447px;top:1472.5px;width:112px;height:36.5px;background:#80b9bd;"></div>
<div class="r" style="left:445px;top:1510px;width:2px;height:36px;background:#fff;"></div>
<div class="r" style="left:445px;top:1583px;width:2px;height:37px;background:#fff;"></div>
<div class="r" style="left:96.4px;top:1676px;width:407.1px;height:33px;background:#f5821f;border-radius:18px 18px 0 0"></div>
<div class="r" style="left:96.4px;top:1709px;width:407.1px;height:64px;background:#fff;"></div>
<svg style="left:99px;top:1720px" width="38" height="34" viewBox="99 1720 38 34">
<g fill="none" stroke-linecap="round" stroke-linejoin="round">
<circle cx="107.800" cy="1741.900" r="5.900" stroke="#5a5a5a" stroke-width="1.700"/><circle cx="127.700" cy="1741.900" r="5.900" stroke="#5a5a5a" stroke-width="1.700"/>
<g stroke="#777" stroke-width=".5"><path d="M102.500 1741.900h10.600M107.800 1736.600v10.600M104 1738.100l7.600 7.600M104 1745.700l7.600-7.600M105.800 1737l4 9.800M109.800 1737l-4 9.800M102.900 1739.900l9.800 4M102.900 1743.900l9.800-4"/>
<path d="M122.400 1741.900h10.600M127.700 1736.600v10.600M123.900 1738.100l7.600 7.600M123.900 1745.700l7.600-7.600M125.700 1737l4 9.800M129.700 1737l-4 9.800M122.800 1739.900l9.800 4M122.800 1743.900l9.800-4"/></g>
<g stroke="#1c1c1c" stroke-width="1.150">
<path d="M107.800 1741.900L113 1729.800H122.800L117.800 1740.900Z M112.600 1729.500L117.800 1740.900 M122.800 1729.800l.8-2.600 M123.600 1727.200L127.700 1741.900 M117.800 1740.900l.5 4.500"/>
<path d="M104 1733.300h6.500l-2.700 8.600" stroke-width=".8"/>
<path d="M118.500 1725.600l2.500-1 2.600 1.600" stroke-width="1.300"/>
<path d="M123.200 1724.600l1.600-.8" stroke="#999" stroke-width="1"/>
</g>
</g>
<path d="M108.300 1726.800q1.500-1 3 0 1.800.6 3.800-1l.5 1.200q-2 2-4.200 2-2.800 0-3.100-2.200z" fill="#111"/>
<circle cx="118.300" cy="1745.600" r=".9" fill="#111"/><circle cx="107.800" cy="1741.900" r="1.100" fill="#222"/><circle cx="127.700" cy="1741.900" r=".9" fill="#444"/>
</svg>
<div class="r" style="left:96.4px;top:1792.5px;width:407.1px;height:32.0px;background:#0db04b;border-radius:18px 18px 0 0"></div>
<div class="r" style="left:96.4px;top:1824.5px;width:407.1px;height:66.0px;background:#fff;"></div>
<svg style="left:100px;top:1828px" width="36" height="52" viewBox="100 1828 36 52">
<defs><clipPath id="ovc"><rect x="100" y="1828" width="36" height="49.700"/></clipPath></defs>
<ellipse cx="117.500" cy="1854.600" rx="14.800" ry="24.300" fill="#a3cf33" stroke="#4c962d" stroke-width="1.300" clip-path="url(#ovc)"/>
<g stroke-linejoin="round">
<path d="M104.300 1859.800v-4.600l3.200-1.300 2.300-4.300q.6-1 1.800-1h7.200q1 0 1.700.9l2.600 3.600 5.600 1.400q1.300.4 1.300 1.800v3.600l-2 .8h-3l-1.200 2.400h-2.600l-.8-2.400h-8.800l-.9 1.500h-2.900l-.8-1.500z" fill="#f1f1ef" stroke="#8b8f8b" stroke-width=".5"/>
<path d="M110.300 1853.400l1.800-3.600h3.200v3.600z M116.300 1853.400v-3.600h2.300l2.400 3.600z" fill="#8e9aa0"/>
<path d="M106 1856h4l1 2h-5z M112 1855.500h3v3h-3z M119 1854.500l4 .5v3l-4-.5z M124 1858l4-1v2.500l-3 1z M108 1860.600h3 M121 1861h4.500" fill="#a9adab" stroke="#70757a" stroke-width=".5"/>
<path d="M116.500 1856.500l2 2.500-1 3 M113.500 1849.500l3 .8" fill="none" stroke="#595f63" stroke-width=".7"/>
</g>
</svg>
<div class="r" style="left:19px;top:1899px;width:561.5px;height:225px;background:#fff;"></div>
<div class="r" style="left:108px;top:1950.5px;width:19.5px;height:6.0px;background:#f58a1f;border-radius:3px"></div>
<div class="r" style="left:181px;top:1950.5px;width:19.5px;height:6.0px;background:#2db45c;border-radius:3px"></div>
<div class="r" style="left:254px;top:1950.5px;width:19.5px;height:6.0px;background:#fb90aa;border-radius:3px"></div>
<div class="r" style="left:327.5px;top:1950.5px;width:18.5px;height:6.0px;background:#a4cf3c;border-radius:3px"></div>
<div class="r" style="left:396px;top:1950.5px;width:20px;height:6.0px;background:#c49f3c;border-radius:3px"></div>
<div class="r" style="left:28px;top:1990px;width:43.5px;height:53.5px;background:#f58a1f;"></div>
<div class="r" style="left:71.5px;top:1990px;width:217.0px;height:53.5px;background:#2db45c;"></div>
<div class="r" style="left:288.5px;top:1990px;width:205.0px;height:53.5px;background:#a4cf3c;"></div>
<div class="r" style="left:493.5px;top:1990px;width:75.5px;height:53.5px;background:#c49f3c;"></div>
<div class="r" style="left:28px;top:2067.5px;width:97px;height:53.5px;background:#2db45c;"></div>
<div class="r" style="left:125px;top:2067.5px;width:211.5px;height:53.5px;background:#fb90aa;"></div>
<div class="r" style="left:336.5px;top:2067.5px;width:190.0px;height:53.5px;background:#a4cf3c;"></div>
<div class="r" style="left:526.5px;top:2067.5px;width:42.5px;height:53.5px;background:#c49f3c;"></div>
<span class="t" style="left:34px;top:19.04px;font-size:42.5px;color:#c96a2b;transform:scaleX(0.8559);-webkit-text-stroke:.9px #c96a2b;word-spacing:4px;">KNOW YOUR CONSTITUENCY</span>
<span class="t" style="left:175px;top:76.53px;font-size:20px;color:#111;transform:scaleX(0.8162);">Powered by :</span>
<span class="t" style="left:276.5px;top:75.50px;font-size:21.5px;color:#0f52ab;font-weight:700;transform:scaleX(1.0815);-webkit-text-stroke:.5px #0f52ab;">Datanet India</span>
<span class="t" style="left:42px;top:139.64px;font-size:25.5px;color:#fff;transform:scaleX(0.9809);-webkit-text-stroke:.45px #fff;">AN OVERVIEW OF PARKAL VIDHAN SABHA</span>
<span class="t" style="left:207px;top:171.54px;font-size:25.5px;color:#fff;transform:scaleX(0.9840);-webkit-text-stroke:.45px #fff;">IN TELANGANA</span>
<span class="t" style="left:30px;top:234.96px;font-size:22.6px;color:#8e171a;transform:scaleX(1.1232);-webkit-text-stroke:.3px #8b1a1a;">Since 1957, in the last 13 Assembly Elections in</span>
<span class="t" style="left:44px;top:264.16px;font-size:22.6px;color:#8e171a;transform:scaleX(1.1015);-webkit-text-stroke:.3px #8b1a1a;">Parkal Vidhan Sabha the Congress won 6, the</span>
<span class="t" style="left:42px;top:292.96px;font-size:22.6px;color:#8e171a;transform:scaleX(1.0823);-webkit-text-stroke:.3px #8b1a1a;">BJP won 2, the TDP won 2, the TRS won 1 and</span>
<span class="t" style="left:188px;top:321.96px;font-size:22.6px;color:#8e171a;transform:scaleX(1.1378);-webkit-text-stroke:.3px #8b1a1a;">others won 2 times.</span>
<span class="t" style="left:172px;top:592.11px;font-size:22.3px;color:#111;transform:scaleX(1.0643);">Total Population :</span>
<span class="t" style="left:362.5px;top:592.11px;font-size:22.3px;color:#111;font-weight:700;transform:scaleX(0.9662);">257025</span>
<span class="t" style="left:27.5px;top:667.78px;font-size:24px;color:#111;font-weight:700;font-family:'Liberation Serif', serif;transform:scaleX(0.8854);">90%</span>
<span class="t" style="left:527.5px;top:667.78px;font-size:24px;color:#111;font-weight:700;font-family:'Liberation Serif', serif;transform:scaleX(0.8958);">10%</span>
<span class="t" style="left:25px;top:712.95px;font-size:22px;color:#111;transform:scaleX(0.9717);">Rural</span>
<span class="t" style="left:514.5px;top:712.95px;font-size:22px;color:#111;transform:scaleX(1.0417);">Urban</span>
<span class="t" style="left:177.5px;top:729.06px;font-size:22.6px;color:#8e171a;transform:scaleX(0.8978);"><span class="m">RELIGIOUS GROUPS</span> (%)</span>
<span class="t" style="left:185px;top:777.72px;font-size:19px;color:#111;transform:scaleX(1.0395);">Muslim:2</span>
<span class="t" style="left:321px;top:777.72px;font-size:19px;color:#111;transform:scaleX(1.0440);">Christian:1</span>
<span class="t" style="left:332px;top:932.72px;font-size:19px;color:#111;transform:scaleX(1.0395);">Hindu:96</span>
<span class="t" style="left:210px;top:976.06px;font-size:22.6px;color:#8e171a;transform:scaleX(0.9409);"><span class="m">SOCIAL GROUPS</span></span>
<span class="t" style="left:156.5px;top:1009.45px;font-size:22px;color:#111;transform:scaleX(1.0750);">Scheduled Caste :</span>
<span class="t" style="left:370px;top:1009.45px;font-size:22px;color:#111;transform:scaleX(0.9533);">23.12%</span>
<span class="t" style="left:164.5px;top:1041.45px;font-size:22px;color:#111;transform:scaleX(1.0467);">Scheduled Tribes :</span>
<span class="t" style="left:375px;top:1041.45px;font-size:22px;color:#111;transform:scaleX(0.9435);">4.98%</span>
<span class="t" style="left:223.5px;top:1086.56px;font-size:22.6px;color:#8e171a;transform:scaleX(0.8686);"><span class="m">LITERACY RATE</span></span>
<span class="t" style="left:278.5px;top:1121.26px;font-size:23px;color:#111;font-weight:700;transform:scaleX(0.8913);">64%</span>
<span class="t" style="left:215px;top:1177.56px;font-size:22.6px;color:#8e171a;transform:scaleX(0.8763);"><span class="m">ELECTORATE</span> (%)</span>
<span class="t" style="left:155px;top:1217.28px;font-size:24px;color:#111;font-weight:700;transform:scaleX(0.8600);">: 49.49</span>
<span class="t" style="left:253px;top:1217.28px;font-size:24px;color:#111;font-weight:700;transform:scaleX(0.8600);">: 50.51</span>
<span class="t" style="left:333px;top:1217.76px;font-size:23px;color:#111;transform:scaleX(0.9558);">Sex Ratio :</span>
<span class="t" style="left:449.5px;top:1217.28px;font-size:24px;color:#111;font-weight:700;transform:scaleX(0.8208);">1021</span>
<span class="t" style="left:208px;top:1275.56px;font-size:22.6px;color:#8e171a;transform:scaleX(0.9326);"><span class="m">AGE GROUPS</span> (%)</span>
<span class="t" style="top:1374.01px;font-size:18px;color:#111;left:171.79999999999998px;transform:translateX(-50%) scaleX(1.11);transform-origin:50% 50%;">15.8</span>
<span class="t" style="top:1440.96px;font-size:14px;color:#8c8c8c;left:171.79999999999998px;transform:translateX(-50%) scaleX(1.12);transform-origin:50% 50%;">18-25</span>
<span class="t" style="top:1350.91px;font-size:18px;color:#111;left:259.2px;transform:translateX(-50%) scaleX(1.11);transform-origin:50% 50%;">27.08</span>
<span class="t" style="top:1440.96px;font-size:14px;color:#8c8c8c;left:259.2px;transform:translateX(-50%) scaleX(1.12);transform-origin:50% 50%;">25-35</span>
<span class="t" style="top:1318.21px;font-size:18px;color:#111;left:348.05px;transform:translateX(-50%) scaleX(1.11);transform-origin:50% 50%;">44.66</span>
<span class="t" style="top:1440.96px;font-size:14px;color:#8c8c8c;left:348.05px;transform:translateX(-50%) scaleX(1.12);transform-origin:50% 50%;">35-60</span>
<span class="t" style="top:1380.21px;font-size:18px;color:#111;left:435.3px;transform:translateX(-50%) scaleX(1.11);transform-origin:50% 50%;">12.45</span>
<span class="t" style="top:1440.96px;font-size:14px;color:#8c8c8c;left:435.3px;transform:translateX(-50%) scaleX(1.12);transform-origin:50% 50%;">60+</span>
<span class="t" style="top:1478.08px;font-size:24px;color:#fff;font-weight:700;left:386px;transform:translateX(-50%) scaleX(1.15);transform-origin:50% 50%;-webkit-text-stroke:.4px #fff;">2014</span>
<span class="t" style="top:1478.08px;font-size:24px;color:#fff;font-weight:700;left:501px;transform:translateX(-50%) scaleX(1.15);transform-origin:50% 50%;-webkit-text-stroke:.4px #fff;">2018</span>
<span class="t" style="left:42px;top:1516.25px;font-size:22px;color:#111;transform:scaleX(1.0253);">Electors</span>
<span class="t" style="left:42px;top:1552.75px;font-size:22px;color:#111;transform:scaleX(1.0865);">Polling Percentage</span>
<span class="t" style="left:42px;top:1589.25px;font-size:22px;color:#111;transform:scaleX(1.0197);">Polling Stations</span>
<span class="t" style="left:42px;top:1631.47px;font-size:15px;color:#111;transform:scaleX(1.1040);">State Average Polling Percentage : 69.22 (2014)</span>
<span class="t" style="top:1516.81px;font-size:22.5px;color:#111;left:386.5px;transform:translateX(-50%) scaleX(0.95);transform-origin:50% 50%;">193450</span>
<span class="t" style="top:1516.81px;font-size:22.5px;color:#111;left:501.5px;transform:translateX(-50%) scaleX(0.95);transform-origin:50% 50%;">181473</span>
<span class="t" style="top:1553.31px;font-size:22.5px;color:#111;left:385.5px;transform:translateX(-50%) scaleX(0.95);transform-origin:50% 50%;">84.89</span>
<span class="t" style="top:1553.31px;font-size:22.5px;color:#111;left:500.5px;transform:translateX(-50%) scaleX(0.95);transform-origin:50% 50%;">-</span>
<span class="t" style="top:1589.81px;font-size:22.5px;color:#111;left:385.5px;transform:translateX(-50%) scaleX(0.95);transform-origin:50% 50%;">229</span>
<span class="t" style="top:1589.81px;font-size:22.5px;color:#111;left:501px;transform:translateX(-50%) scaleX(0.95);transform-origin:50% 50%;">238</span>
<span class="t" style="left:223.5px;top:1681.86px;font-size:22.8px;color:#fff;transform:scaleX(0.8859);"><span class="m">WINNER</span></span>
<span class="t" style="left:313.5px;top:1681.86px;font-size:22.8px;color:#fff;transform:scaleX(0.9015);">(2014)</span>
<span class="t" style="left:200.5px;top:1716.48px;font-size:24px;color:#f0831f;transform:scaleX(1.0021);"><span class="m">Challa Dharma Reddy</span></span>
<span class="t" style="left:209.5px;top:1742.41px;font-size:22.3px;color:#111;transform:scaleX(1.0614);">Vote :</span>
<span class="t" style="left:279.7px;top:1742.41px;font-size:22.3px;color:#111;transform:scaleX(0.9645);">67432</span>
<span class="t" style="left:348px;top:1742.41px;font-size:22.3px;color:#8b1a1a;transform:scaleX(0.9222);">(41.06%)</span>
<span class="t" style="left:205px;top:1799.36px;font-size:22.8px;color:#fff;transform:scaleX(0.8540);"><span class="m">RUNNER-UP</span></span>
<span class="t" style="left:330.8px;top:1799.36px;font-size:22.8px;color:#fff;transform:scaleX(0.9197);">(2014)</span>
<span class="t" style="left:195px;top:1833.06px;font-size:23px;color:#0aa54f;font-weight:700;transform:scaleX(1.1000);-webkit-text-stroke:.5px #0aa54f;">S. Reddy Muddasani</span>
<span class="t" style="left:208.2px;top:1858.61px;font-size:22.3px;color:#111;transform:scaleX(1.0842);">Vote :</span>
<span class="t" style="left:278px;top:1858.61px;font-size:22.3px;color:#111;transform:scaleX(0.9774);">58324</span>
<span class="t" style="left:346.8px;top:1858.61px;font-size:22.3px;color:#8b1a1a;transform:scaleX(0.9244);">(35.52%)</span>
<span class="t" style="left:57.5px;top:1910.04px;font-size:21px;color:#8e171a;transform:scaleX(0.8616);"><span class="m">PERCENTAGE VOTE SHARE OF ASSEMBLY ELECTIONS</span></span>
<span class="t" style="left:137px;top:1945.00px;font-size:21.5px;color:#222;transform:scaleX(0.8590);">BJP</span>
<span class="t" style="left:208px;top:1945.00px;font-size:21.5px;color:#222;transform:scaleX(0.9730);">INC</span>
<span class="t" style="left:281px;top:1945.00px;font-size:21.5px;color:#222;transform:scaleX(0.8605);">TDP</span>
<span class="t" style="left:355px;top:1945.00px;font-size:21.5px;color:#222;transform:scaleX(0.7442);">TRS</span>
<span class="t" style="left:425px;top:1945.00px;font-size:21.5px;color:#222;transform:scaleX(0.8533);">OTHER</span>
<span class="t" style="left:28px;top:1968.53px;font-size:24.5px;color:#111;transform:scaleX(0.8636);-webkit-text-stroke:.5px #111;">2009</span>
<span class="t" style="left:28px;top:2045.53px;font-size:24.5px;color:#111;transform:scaleX(0.8636);-webkit-text-stroke:.5px #111;">2014</span>
<span class="t" style="top:2009.27px;font-size:23.5px;color:#fff;left:49.75px;transform:translateX(-50%) scaleX(0.95);transform-origin:50% 50%;-webkit-text-stroke:.3px #fff;">2.37</span>
<span class="t" style="top:2009.27px;font-size:23.5px;color:#fff;left:180.0px;transform:translateX(-50%) scaleX(0.95);transform-origin:50% 50%;-webkit-text-stroke:.3px #fff;">46.79</span>
<span class="t" style="top:2009.27px;font-size:23.5px;color:#fff;left:391.0px;transform:translateX(-50%) scaleX(0.95);transform-origin:50% 50%;-webkit-text-stroke:.3px #fff;">38.13</span>
<span class="t" style="top:2009.27px;font-size:23.5px;color:#fff;left:531.25px;transform:translateX(-50%) scaleX(0.95);transform-origin:50% 50%;-webkit-text-stroke:.3px #fff;">12.71</span>
<span class="t" style="top:2086.77px;font-size:23.5px;color:#fff;left:76.5px;transform:translateX(-50%) scaleX(0.95);transform-origin:50% 50%;-webkit-text-stroke:.3px #fff;">18.44</span>
<span class="t" style="top:2086.77px;font-size:23.5px;color:#fff;left:230.75px;transform:translateX(-50%) scaleX(0.95);transform-origin:50% 50%;-webkit-text-stroke:.3px #fff;">41.06</span>
<span class="t" style="top:2086.77px;font-size:23.5px;color:#fff;left:431.5px;transform:translateX(-50%) scaleX(0.95);transform-origin:50% 50%;-webkit-text-stroke:.3px #fff;">35.52</span>
<span class="t" style="top:2086.77px;font-size:23.5px;color:#fff;left:547.75px;transform:translateX(-50%) scaleX(0.95);transform-origin:50% 50%;-webkit-text-stroke:.3px #fff;">4.98</span>
<span class="t" style="left:25px;top:2128.68px;font-size:16px;color:#111;transform:scaleX(0.8750);">Compiled and Designed by</span>
<span class="t" style="left:203px;top:2128.44px;font-size:16.5px;color:#8b1a1a;font-weight:700;transform:scaleX(1.0236);-webkit-text-stroke:.6px;">Elections<span style="color:#8d8078">in</span>India</span>
<span class="t" style="left:334.5px;top:2130.91px;font-size:13.5px;color:#666;font-weight:700;transform:scaleX(0.8438);-webkit-text-stroke:.3px;">.com</span>
<span class="t" style="left:366.7px;top:2128.68px;font-size:16px;color:#111;transform:scaleX(0.8738);">Infographics &copy;</span>
<span class="t" style="left:462px;top:2128.20px;font-size:17px;color:#0f52ab;font-weight:700;transform:scaleX(1.0093);-webkit-text-stroke:.6px #0f52ab;">Datanet India</span>
<span class="t" style="left:570.5px;top:2128.68px;font-size:16px;color:#111;transform:scaleX(0.8750);">.</span>
</div>
</body></html>
